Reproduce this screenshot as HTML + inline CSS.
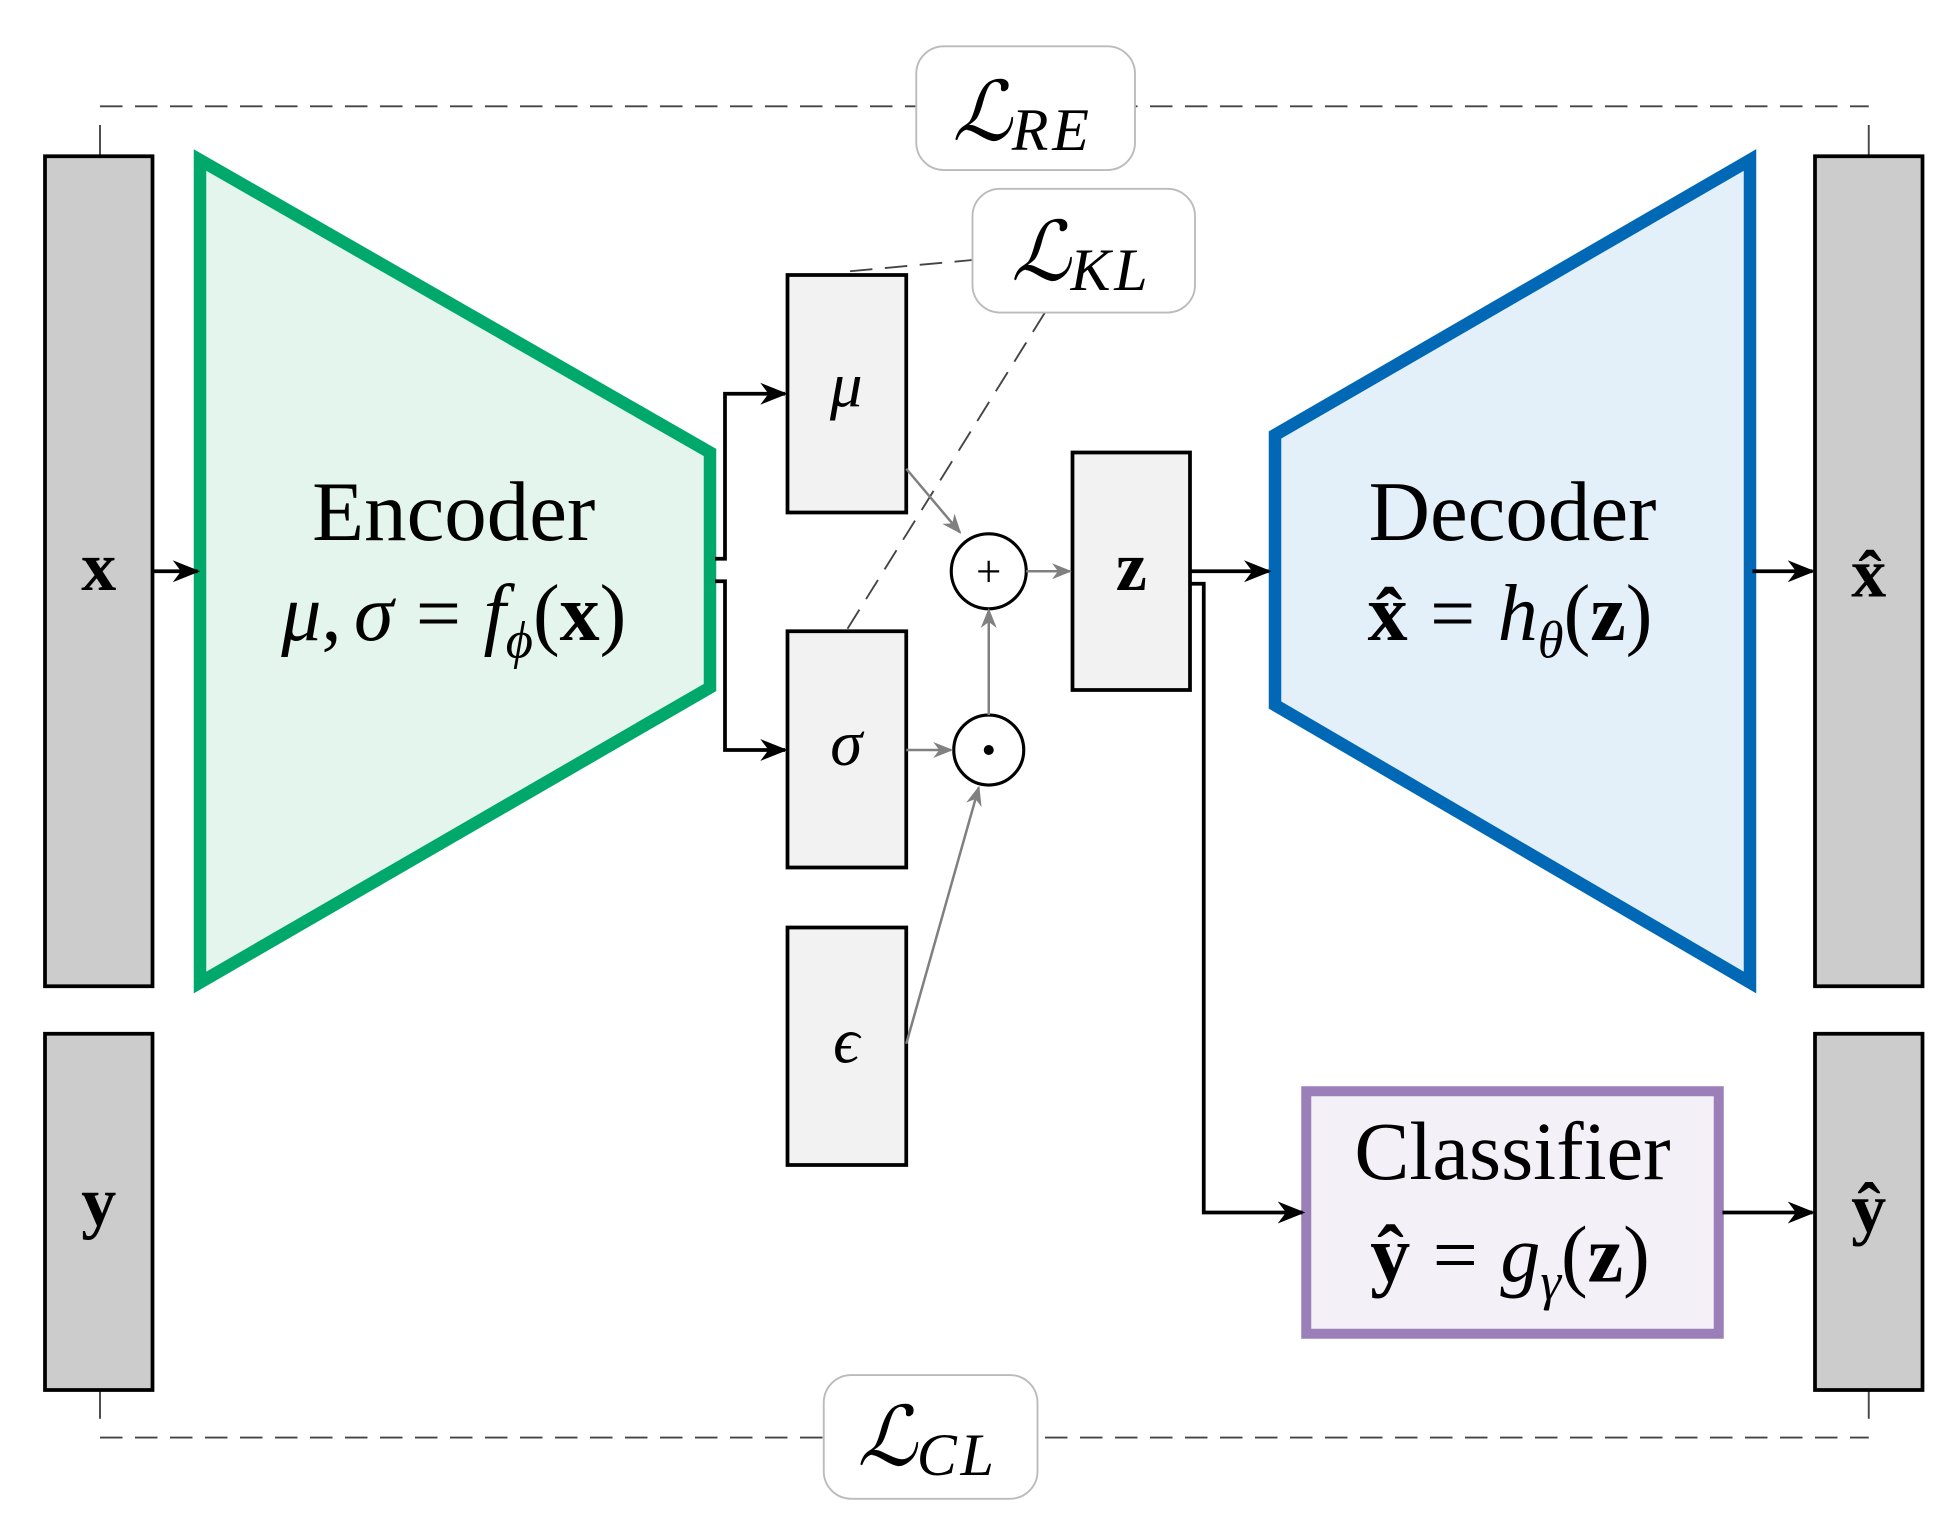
<!DOCTYPE html>
<html><head><meta charset="utf-8"><style>
html,body{margin:0;padding:0;background:#fff;}
svg{display:block;}
text{font-family:"Liberation Serif",serif;}
.it{font-style:italic;}
.b{font-weight:bold;}
</style></head><body>
<svg width="1950" height="1524" viewBox="0 0 1560 1219.2" xmlns="http://www.w3.org/2000/svg">
<defs>
<marker id="k" viewBox="0 0 10 10" markerWidth="22" markerHeight="22" refX="9" refY="5" orient="auto" markerUnits="userSpaceOnUse"><path d="M0,1 L10,5 L0,9 L3,5z" fill="#000"/></marker>
<marker id="g" viewBox="0 0 10 10" markerWidth="16" markerHeight="16" refX="9" refY="5" orient="auto" markerUnits="userSpaceOnUse"><path d="M0,1 L10,5 L0,9 L3,5z" fill="#808080"/></marker>
</defs>
<g stroke="#444" stroke-width="1.5" fill="none" stroke-dasharray="18,10">
<path d="M80,85 H1495"/><path d="M80,1150 H1495"/>
<path d="M680,217 L778,208"/><path d="M678,503 L836,250"/>
</g>
<g stroke="#444" stroke-width="1.5"><path d="M80,100 V125 M1495,100 V125 M80,1112 V1135 M1495,1112 V1135"/></g>
<g stroke="#000" stroke-width="3" fill="#cccccc">
<rect x="36" y="125" width="86" height="664"/><rect x="36" y="827" width="86" height="285"/>
<rect x="1452" y="125" width="86" height="664"/><rect x="1452" y="827" width="86" height="285"/>
</g>
<polygon points="160,128 568,362 568,550 160,786" fill="#e4f5ee" stroke="#00a86b" stroke-width="10"/>
<polygon points="1400,128 1020,348 1020,564 1400,786" fill="#e3f0fa" stroke="#0068b5" stroke-width="10"/>
<rect x="1045" y="873" width="330" height="194" fill="#f3f0f8" stroke="#9b7fb8" stroke-width="8"/>
<g stroke="#000" stroke-width="3" fill="#f2f2f2">
<rect x="630" y="220" width="95" height="190"/><rect x="630" y="505" width="95" height="189"/>
<rect x="630" y="742" width="95" height="190"/><rect x="858" y="362" width="94" height="190"/>
</g>
<g stroke="#000" stroke-width="2.5" fill="#fff">
<circle cx="791" cy="457" r="30"/><circle cx="791" cy="600" r="28"/>
</g>
<text x="791" y="469" font-size="36" text-anchor="middle">+</text>
<circle cx="791" cy="600" r="4" fill="#000"/>
<g stroke="#bbb" stroke-width="1.5" fill="#fff">
<rect x="733" y="37" width="175" height="99" rx="22"/><rect x="778" y="151" width="178" height="99" rx="22"/>
<rect x="659" y="1100" width="171" height="99" rx="22"/>
</g>
<text x="818" y="112" font-size="66" text-anchor="middle" class="it">ℒ<tspan font-size="48" dy="8" letter-spacing="3">RE</tspan></text>
<text x="865" y="224" font-size="66" text-anchor="middle" class="it">ℒ<tspan font-size="48" dy="8" letter-spacing="3">KL</tspan></text>
<text x="742" y="1172" font-size="66" text-anchor="middle" class="it">ℒ<tspan font-size="48" dy="8" letter-spacing="3">CL</tspan></text>
<g stroke="#000" stroke-width="3" fill="none" marker-end="url(#k)">
<path d="M122,457 H158"/>
<path d="M572,447 H580 V315 H628"/>
<path d="M572,465 H580 V600 H628"/>
<path d="M952,457 H1015"/>
<path d="M952,467 H963 V970 H1042"/>
<path d="M1402,457 H1450"/>
<path d="M1378,970 H1450"/>
</g>
<g stroke="#808080" stroke-width="2" fill="none" marker-end="url(#g)">
<path d="M725,375 L768,426"/>
<path d="M725,600 L761,600"/>
<path d="M725,835 L783,630"/>
<path d="M791,572 L791,488"/>
<path d="M821,457 L856,457"/>
</g>
<text x="79" y="472" font-size="56" class="b" text-anchor="middle">x</text>
<text x="79" y="980" font-size="56" class="b" text-anchor="middle">y</text>
<text x="1495" y="477" font-size="56" class="b" text-anchor="middle">x̂</text>
<text x="1495" y="985" font-size="56" class="b" text-anchor="middle">ŷ</text>
<text x="905" y="472" font-size="56" class="b" text-anchor="middle">z</text>
<text x="677" y="325" font-size="52" class="it" text-anchor="middle">μ</text>
<text x="677" y="612" font-size="52" class="it" text-anchor="middle">σ</text>
<text x="677" y="850" font-size="52" class="it" text-anchor="middle">ϵ</text>
<text x="363" y="432" font-size="68" text-anchor="middle">Encoder</text>
<text x="363" y="512" font-size="64" text-anchor="middle"><tspan class="it">μ</tspan>,<tspan class="it" dx="10">σ</tspan><tspan dx="18">=</tspan><tspan class="it" dx="18">f</tspan><tspan class="it" font-size="42" dy="14">ϕ</tspan><tspan dy="-14">(</tspan><tspan class="b">x</tspan>)</text>
<text x="1210" y="432" font-size="68" text-anchor="middle">Decoder</text>
<text x="1208" y="512" font-size="64" text-anchor="middle"><tspan class="b">x̂</tspan><tspan dx="18">=</tspan><tspan class="it" dx="18">h</tspan><tspan class="it" font-size="42" dy="14">θ</tspan><tspan dy="-14">(</tspan><tspan class="b">z</tspan>)</text>
<text x="1210" y="943" font-size="66" text-anchor="middle">Classifier</text>
<text x="1208" y="1025" font-size="64" text-anchor="middle"><tspan class="b">ŷ</tspan><tspan dx="18">=</tspan><tspan class="it" dx="18">g</tspan><tspan class="it" font-size="42" dy="14">γ</tspan><tspan dy="-14">(</tspan><tspan class="b">z</tspan>)</text>
</svg>
</body></html>
